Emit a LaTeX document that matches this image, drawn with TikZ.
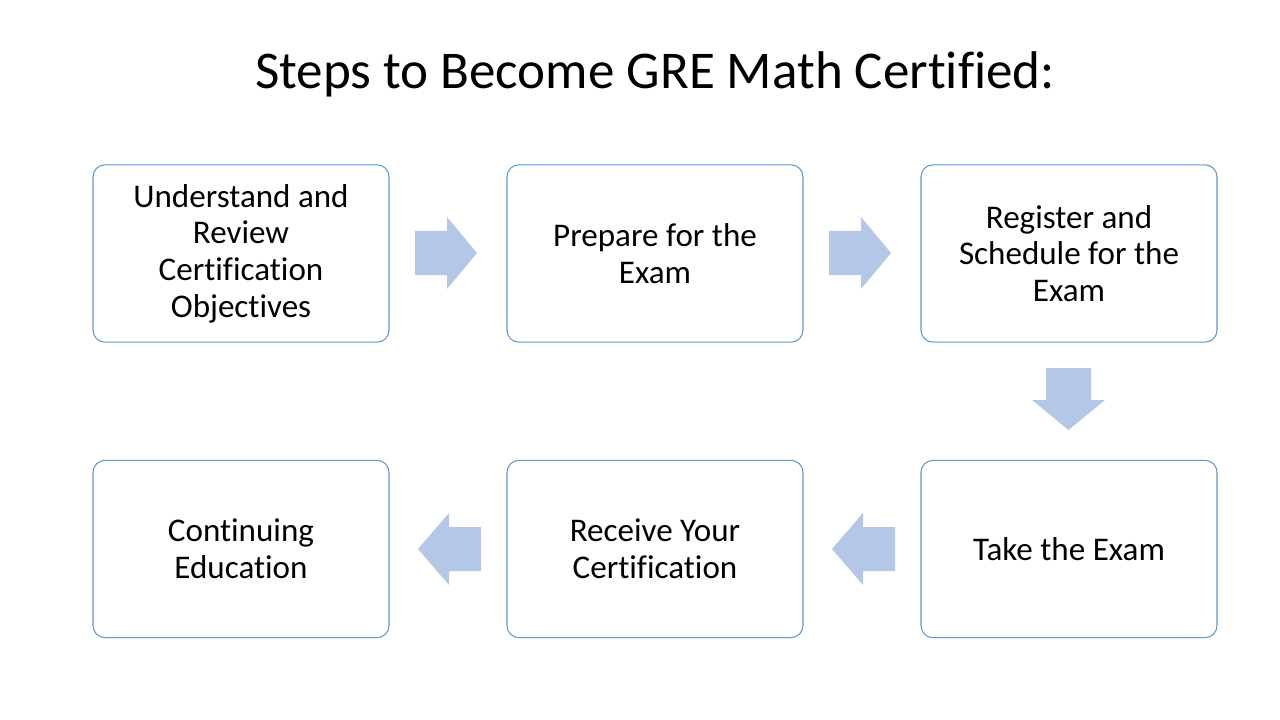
\documentclass[tikz,border=0pt]{standalone}
\usepackage{fontspec}
\setmainfont{Carlito}[Ligatures=CommonOff]
\definecolor{boxline}{HTML}{5B9BD5}
\definecolor{arrowfill}{HTML}{B4C7E7}
\begin{document}
\begin{tikzpicture}[x=0.75pt,y=-0.75pt,
  stepbox/.style={draw=boxline, line width=0.8pt, rounded corners=9pt, fill=white,
    minimum width=222pt, minimum height=133pt, align=center,
    font=\fontsize{24.8}{27.5}\selectfont, inner sep=0pt},
  blockarrow/.style={fill=arrowfill, draw=none}]
\useasboundingbox (0,0) rectangle (1280,720);
\fill[white] (0,0) rectangle (1280,720);
\node[font=\fontsize{39.8}{47}\selectfont] (title) at (655,74) {Steps to Become GRE Math Certified:};
\node[stepbox] (s1) at (241,253.5) {Understand and\\Review\\Certification\\Objectives};
\node[stepbox] (s2) at (655,253.5) {Prepare for the\\Exam};
\node[stepbox] (s3) at (1069,253.5) {Register and\\Schedule for the\\Exam};
\node[stepbox] (s4) at (1069,549) {Take the Exam};
\node[stepbox] (s5) at (655,549) {Receive Your\\Certification};
\node[stepbox] (s6) at (241,549) {Continuing\\Education};
% right arrows
\foreach \dx in {0,414}{
  \fill[blockarrow] (415+\dx,231) -- (447+\dx,231) -- (447+\dx,217) -- (477+\dx,253)
    -- (447+\dx,289) -- (447+\dx,275) -- (415+\dx,275) -- cycle;
}
% down arrow
\fill[blockarrow] (1046,368) -- (1091,368) -- (1091,400) -- (1105,400) -- (1068.5,430)
  -- (1032,400) -- (1046,400) -- cycle;
% left arrows
\foreach \dx in {0,414}{
  \fill[blockarrow] (481+\dx,527) -- (449+\dx,527) -- (449+\dx,513) -- (418+\dx,549)
    -- (449+\dx,585) -- (449+\dx,571) -- (481+\dx,571) -- cycle;
}
\end{tikzpicture}
\end{document}
